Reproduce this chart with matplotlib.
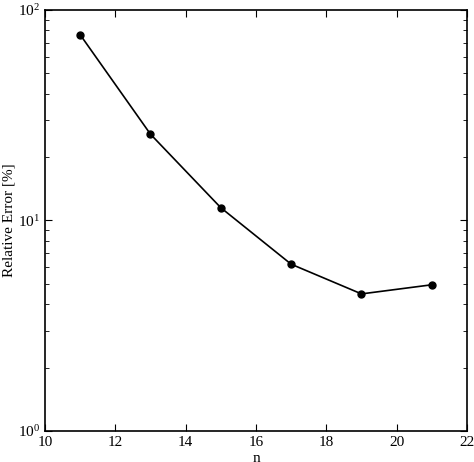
import numpy as np
import matplotlib.pyplot as plt

n = [11, 13, 15, 17, 19, 21]
rel_error = [76.3, 25.7, 11.5, 6.2, 4.48, 4.95]

plt.rcParams['font.family'] = 'Liberation Serif'
plt.rcParams['mathtext.fontset'] = 'custom'
plt.rcParams['mathtext.rm'] = 'Liberation Serif'
plt.rcParams['mathtext.it'] = 'Liberation Serif:italic'

fig = plt.figure(figsize=(4.74, 4.62), dpi=100)
ax = fig.add_axes([0.0949, 0.0671, 0.8903, 0.9113])

ax.semilogy(n, rel_error, 'k-', marker='o', markersize=5, linewidth=1.2)

ax.set_xlim(10, 22)
ax.set_ylim(1, 100)
ax.set_xticks(np.arange(10, 23, 2))
ax.tick_params(which='both', direction='in', top=True, right=True, labelsize=11)
ax.tick_params(which='major', length=5)
ax.tick_params(which='minor', length=3)
for s in ax.spines.values():
    s.set_linewidth(1.2)

ax.set_xlabel('n', fontsize=11, labelpad=2)
ax.set_ylabel('Relative Error [%]', fontsize=11, labelpad=2)

fig.savefig('out.png', dpi=100)
